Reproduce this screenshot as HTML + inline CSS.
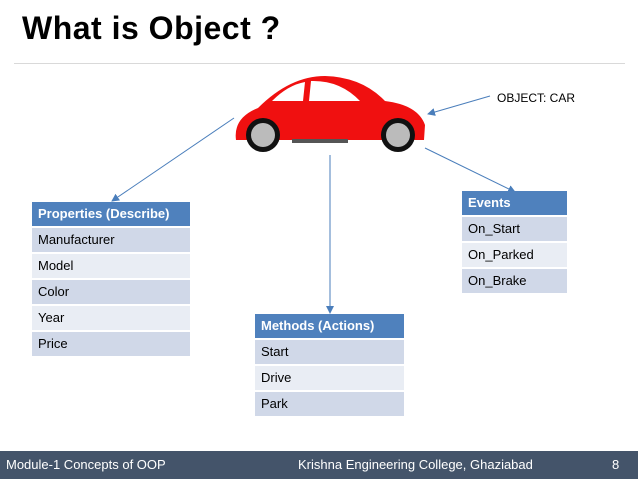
<!DOCTYPE html>
<html><head><style>
body{margin:0;width:638px;height:479px;background:#fff;position:relative;overflow:hidden;font-family:"Liberation Sans",sans-serif}
.t{position:absolute;left:22px;top:10px;font-size:32px;font-weight:bold;color:#000;letter-spacing:0.5px}
.tb{position:absolute;font-size:13px;color:#000}
.tb div{height:24px;line-height:24px;padding-left:6px;margin-bottom:2px;box-sizing:border-box}
.h{background:#4f81bd;color:#fff;font-weight:bold}
.a{background:#d0d8e8}.b{background:#e9edf4}
.f{position:absolute;left:0;top:451px;width:638px;height:28px;background:#44546a;color:#fff;font-size:13px;line-height:28px}
</style></head><body>
<div class="t">What is Object ?</div>
<div style="position:absolute;left:14px;top:63px;width:611px;height:1px;background:#d9d9d9"></div>
<svg width="638" height="479" style="position:absolute;left:0;top:0">
<defs><marker id="m" markerWidth="8" markerHeight="8" refX="7" refY="4" orient="auto"><path d="M0,0 L8,4 L0,8 z" fill="#4a7ebb"/></marker></defs>
<g stroke="#4a7ebb" stroke-width="1" fill="none" marker-end="url(#m)">
<line x1="234" y1="118" x2="112" y2="201"/>
<line x1="330" y1="155" x2="330" y2="313"/>
<line x1="425" y1="148" x2="515" y2="192"/>
<line x1="490" y1="96" x2="428" y2="114"/>
</g>
<path d="M236,140 Q233,118 258,108 Q290,76 325,76 Q362,77 385,101 Q418,105 425,125 L424,140 Z" fill="#f01010"/>
<path d="M272,101 Q288,85 305,82 L303,101 Z M311,81 Q340,80 360,101 L309,101 Z" fill="#fff"/>
<rect x="292" y="139" width="56" height="4" fill="#555"/>
<circle cx="263" cy="135" r="17" fill="#111"/><circle cx="263" cy="135" r="12" fill="#bbb"/>
<circle cx="398" cy="135" r="17" fill="#111"/><circle cx="398" cy="135" r="12" fill="#bbb"/>
</svg>
<div style="position:absolute;left:497px;top:91px;font-size:12px">OBJECT: CAR</div>
<div class="tb" style="left:32px;top:202px;width:158px">
<div class="h">Properties (Describe)</div><div class="a">Manufacturer</div><div class="b">Model</div><div class="a">Color</div><div class="b">Year</div><div class="a">Price</div></div>
<div class="tb" style="left:255px;top:314px;width:149px">
<div class="h">Methods (Actions)</div><div class="a">Start</div><div class="b">Drive</div><div class="a">Park</div></div>
<div class="tb" style="left:462px;top:191px;width:105px">
<div class="h">Events</div><div class="a">On_Start</div><div class="b">On_Parked</div><div class="a">On_Brake</div></div>
<div class="f"><span style="position:absolute;left:6px">Module-1 Concepts of OOP</span><span style="position:absolute;left:298px">Krishna Engineering College, Ghaziabad</span><span style="position:absolute;left:612px">8</span></div>
</body></html>
